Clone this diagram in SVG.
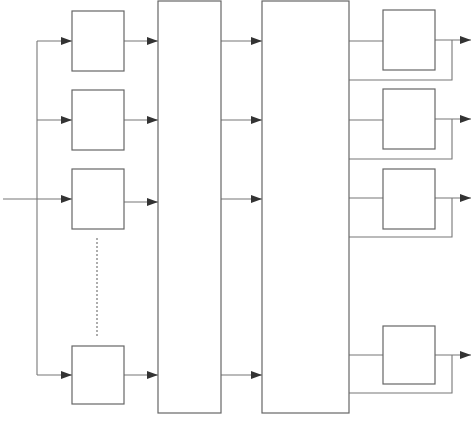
<svg xmlns="http://www.w3.org/2000/svg" width="474" height="443" viewBox="0 0 474 443">
<style>
.box{fill:#fff;stroke:#666;stroke-width:1.2}
.ln{fill:none;stroke:#777;stroke-width:1.1}
.ar{fill:none;stroke:#777;stroke-width:1.1;marker-end:url(#ah)}
.dot{fill:none;stroke:#777;stroke-width:1.2;stroke-dasharray:2 2}
</style>
<defs>
<marker id="ah" markerWidth="11" markerHeight="8" refX="11" refY="4" orient="auto" markerUnits="userSpaceOnUse">
<path d="M0,0 L11,4 L0,8 Z" fill="#333"/>
</marker>
</defs>
<rect width="474" height="443" fill="#fff"/>
<g id="connectors">
<path class="ln" d="M3,199 H37"/>
<path class="ln" d="M37,41 V375"/>
<path class="ar" d="M37,41 H72"/>
<path class="ar" d="M37,120 H72"/>
<path class="ar" d="M37,199 H72"/>
<path class="ar" d="M37,375 H72"/>
<path class="ar" d="M124,41 H158"/>
<path class="ar" d="M124,120 H158"/>
<path class="ar" d="M124,202 H158"/>
<path class="ar" d="M124,375 H158"/>
<path class="ar" d="M221,41 H262"/>
<path class="ar" d="M221,120 H262"/>
<path class="ar" d="M221,199 H262"/>
<path class="ar" d="M221,375 H262"/>
<path class="ln" d="M349,41 H383"/>
<path class="ln" d="M349,120 H383"/>
<path class="ln" d="M349,198 H383"/>
<path class="ln" d="M349,355 H383"/>
<path class="ar" d="M435,40 H471"/>
<path class="ar" d="M435,119 H471"/>
<path class="ar" d="M435,198 H471"/>
<path class="ar" d="M435,355 H471"/>
<path class="ln" d="M452,40 V80 H349"/>
<path class="ln" d="M452,119 V159 H349"/>
<path class="ln" d="M452,198 V237 H349"/>
<path class="ln" d="M452,355 V393 H349"/>
<path class="dot" d="M97,238 V337"/>
</g>
<g id="in1"><rect class="box" x="72" y="11" width="52" height="60"/></g>
<g id="in2"><rect class="box" x="72" y="90" width="52" height="60"/></g>
<g id="in3"><rect class="box" x="72" y="169" width="52" height="60"/></g>
<g id="in4"><rect class="box" x="72" y="346" width="52" height="58"/></g>
<g id="bus1"><rect class="box" x="158" y="1" width="63" height="412"/></g>
<g id="bus2"><rect class="box" x="262" y="1" width="87" height="412"/></g>
<g id="out1"><rect class="box" x="383" y="10" width="52" height="60"/></g>
<g id="out2"><rect class="box" x="383" y="89" width="52" height="60"/></g>
<g id="out3"><rect class="box" x="383" y="169" width="52" height="60"/></g>
<g id="out4"><rect class="box" x="383" y="326" width="52" height="58"/></g>
</svg>
